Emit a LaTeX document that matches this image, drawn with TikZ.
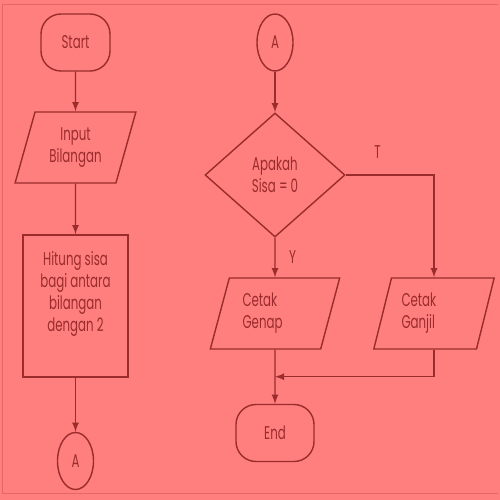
\documentclass[tikz,border=0pt]{standalone}
\usepackage{fontspec}
\setmainfont{Poppins}[FakeStretch=0.64]
\usetikzlibrary{shapes.geometric, positioning, arrows}

\definecolor{bgpink}{HTML}{FF7F7F}
\definecolor{ink}{HTML}{9B2C2C}
\definecolor{framepink}{HTML}{E46666}

\tikzset{
  terminal/.style = {rectangle, rounded corners=0.4cm, draw, minimum width=1.38cm, minimum height=1.14cm},
  io/.style = {trapezium, trapezium left angle=73, trapezium right angle=107, trapezium stretches=true, draw, minimum height=1.42cm, align=center},
  process/.style = {rectangle, draw, minimum width=2.1cm, minimum height=2.84cm, align=center, text depth=0.58cm},
  decision/.style = {diamond, draw, minimum width=2.8cm, minimum height=2.48cm, inner sep=0pt, align=center},
  connector/.style = {ellipse, draw, minimum width=0.72cm, minimum height=1.14cm, inner sep=0pt}
}

\begin{document}
\begin{tikzpicture}[node distance=2cm, >=latex, color=ink, line width=0.8pt, font=\fontsize{10.5}{12.5}\selectfont]
    \fill[bgpink] (0,0) rectangle (10,-10);
    \useasboundingbox (0,0) rectangle (10,-10);
    \draw[framepink, line width=0.5pt] (9.96,-0.08) -- (0.04,-0.08) -- (0.04,-9.86) -- (9.96,-9.86);

    % left column
    \node[terminal] (start) at (1.51,-0.85) {Start};
    \node[io, below of=start, node distance=2.1cm, minimum width=2.42cm] (input) {Input\\Bilangan};
    \node[process, below of=input, node distance=3.17cm] (hitung) {Hitung sisa\\bagi antara\\bilangan\\dengan 2};
    \node[connector, below of=hitung, node distance=3.1cm] (a1) {A};

    % right column
    \node[connector, right of=start, node distance=3.99cm] (a2) {A};
    \node[decision, below of=a2, node distance=2.65cm] (cek) {Apakah\\Sisa = 0};
    \node[io, below of=cek, node distance=2.77cm, minimum width=2.6cm, text width=1.3cm, align=left] (genap) {Cetak\\Genap};
    \node[io, right of=genap, node distance=3.18cm, minimum width=2.42cm, text width=1.3cm, align=left] (ganjil) {Cetak\\Ganjil};
    \node[terminal, below of=genap, node distance=2.39cm, minimum width=1.56cm] (end) {End};
    \coordinate[below=0.54cm of genap.south] (join);

    \draw[->] (start) -- (input);
    \draw[->] (input) -- (hitung);
    \draw[->] (hitung) -- (a1);
    \draw[->] (a2) -- (cek);
    \draw[->] (cek) -- node[right=0.15cm] {Y} (genap);
    \draw[->] (cek.east) -| node[above=0.2cm, pos=0.18] {T} (ganjil.north);
    \draw[->] (genap) -- (end);
    \draw[->] (ganjil.south) |- (join);
\end{tikzpicture}
\end{document}
